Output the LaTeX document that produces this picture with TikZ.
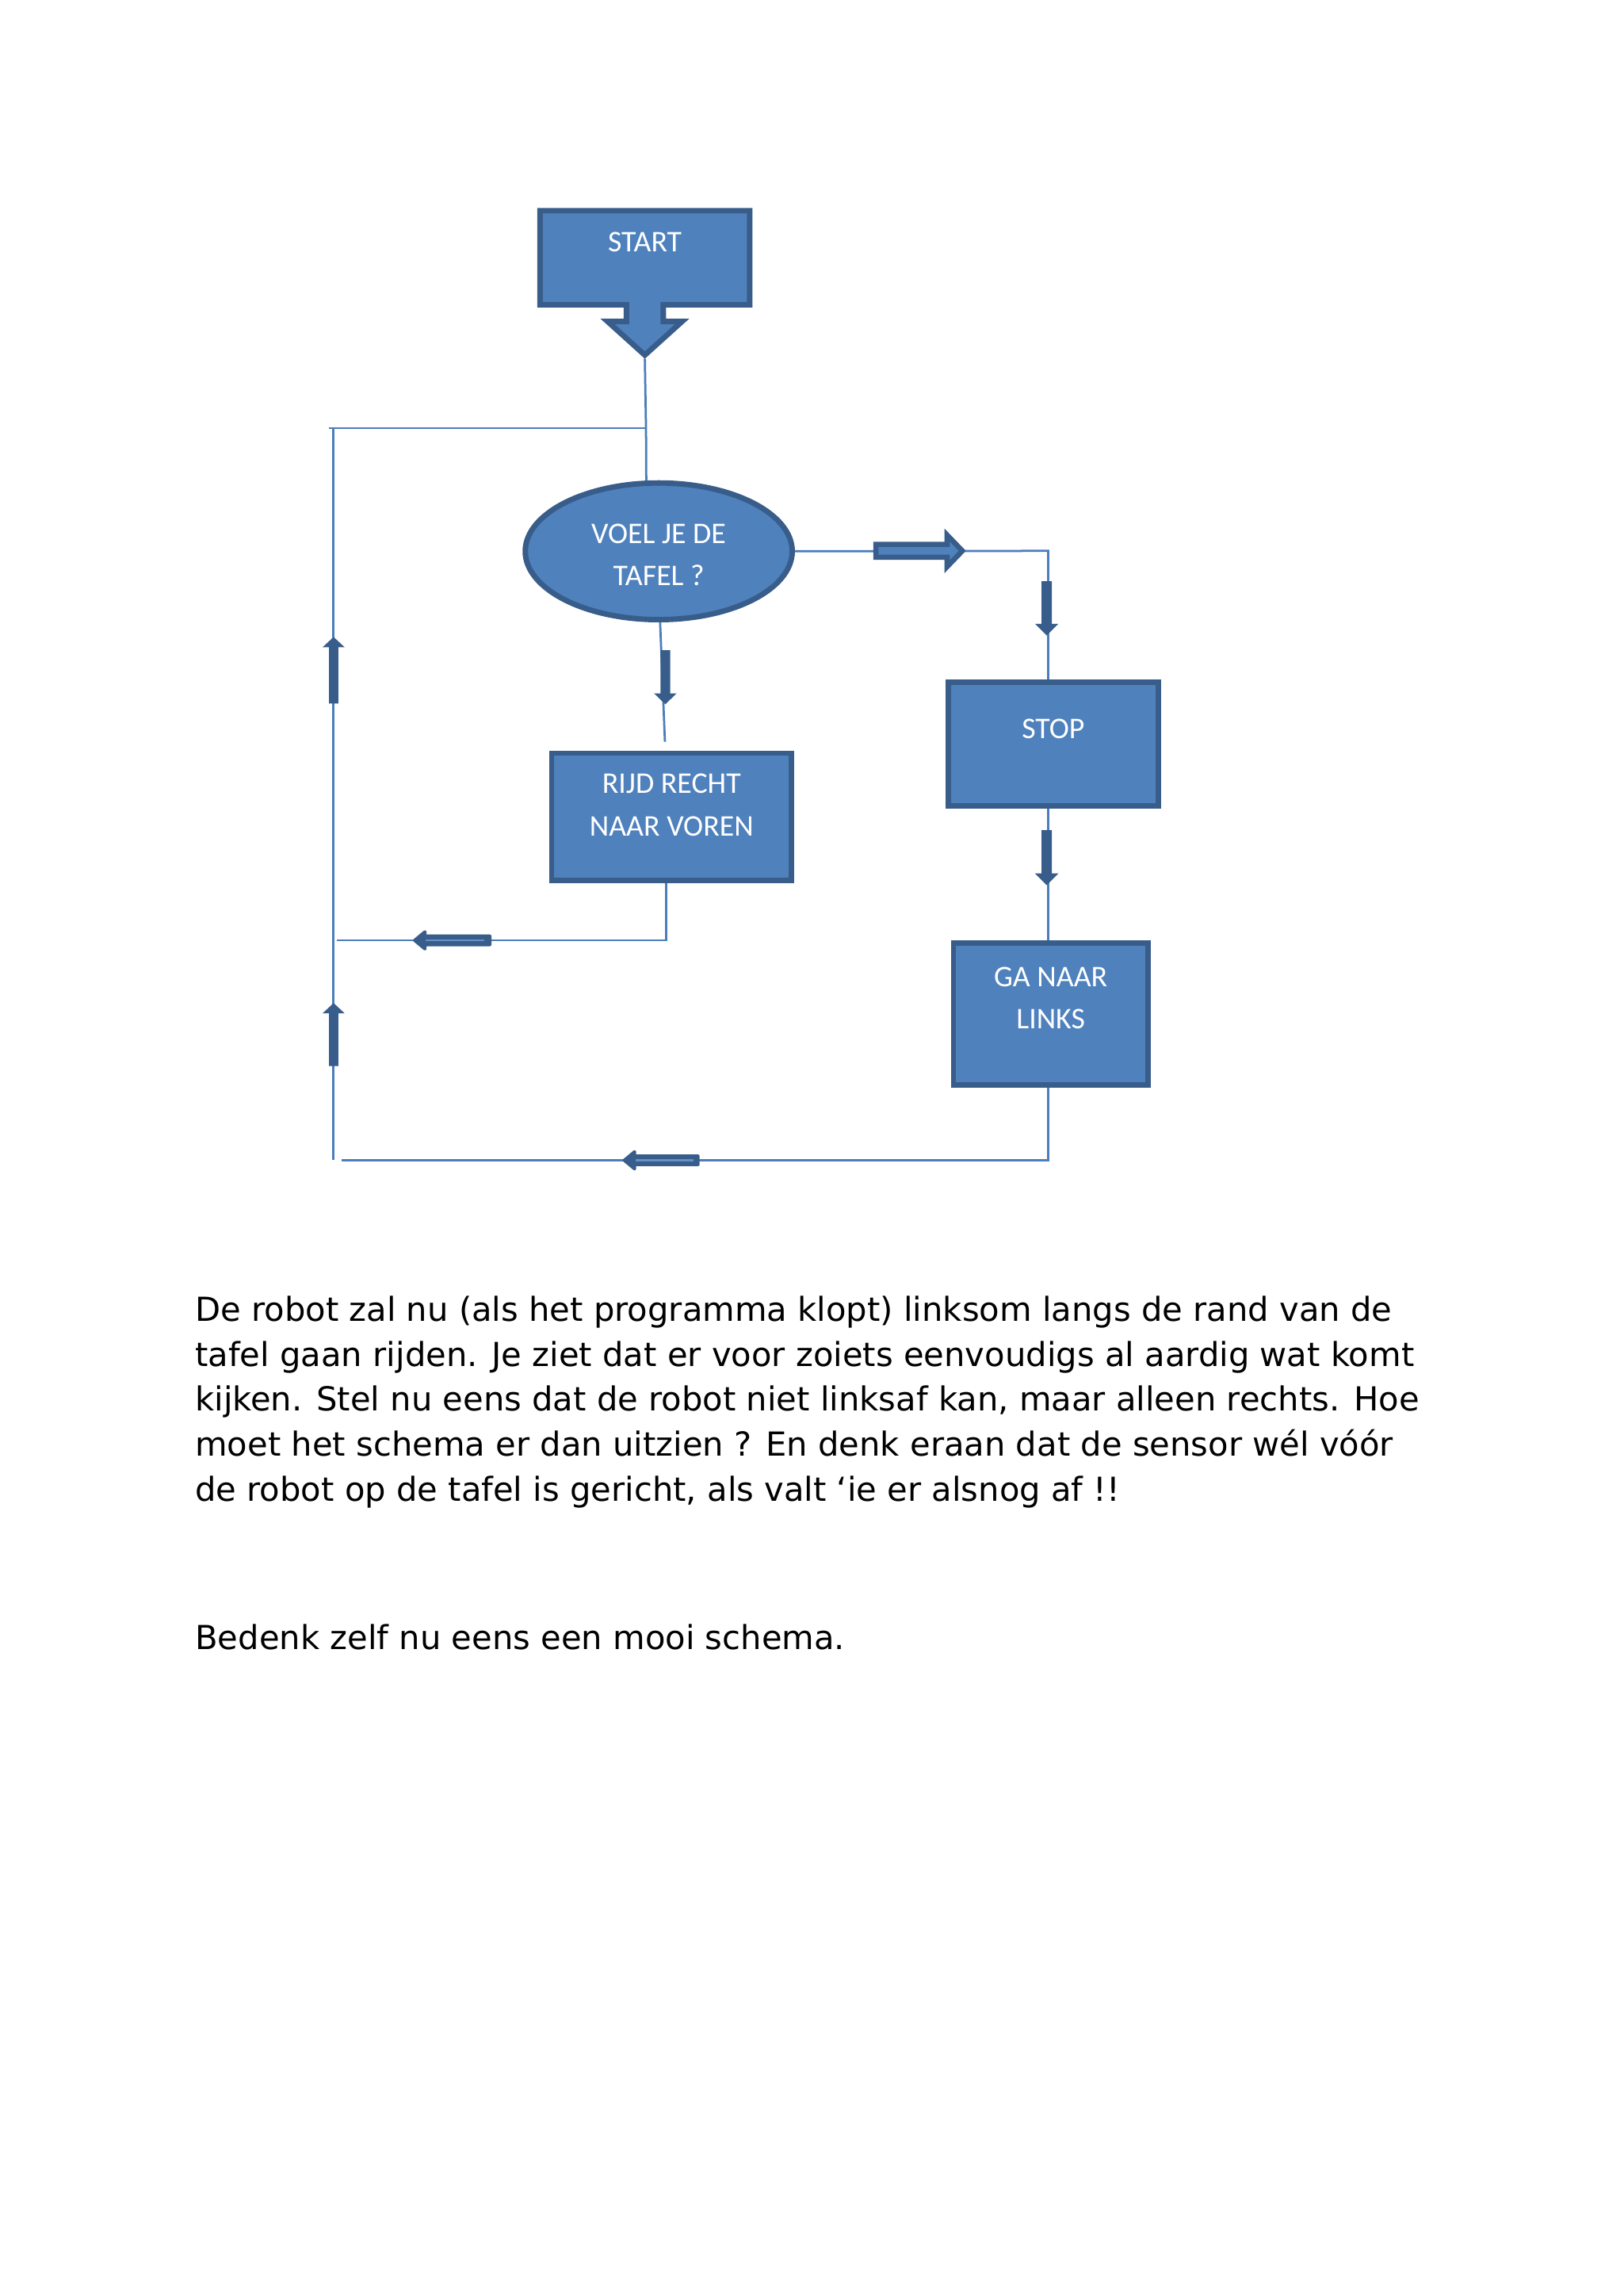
\documentclass[tikz,border=0pt]{standalone}
\usepackage{fontspec}
\usetikzlibrary{shapes.geometric}
\setmainfont{DejaVu Sans}
\newfontfamily\carlito{Carlito}
\definecolor{boxfill}{HTML}{4F81BD}
\definecolor{boxline}{HTML}{385D8A}
\definecolor{connline}{HTML}{4A7EBB}
\newcommand\boxtxt[4]{\parbox[c][#2][t]{#1}{\centering\vspace*{#3}#4\par}}
% vertical solid arrows: x, y of flat end, y of tip, shaft half, head half, head length
\newcommand\vdown[6]{\fill[solidarrow] (#1-#4,#2) -- (#1+#4,#2) -- (#1+#4,#3-#6) -- (#1+#5,#3-#6) -- (#1,#3) -- (#1-#5,#3-#6) -- (#1-#4,#3-#6) -- cycle;}
\newcommand\vup[6]{\fill[solidarrow] (#1-#4,#2) -- (#1+#4,#2) -- (#1+#4,#3+#6) -- (#1+#5,#3+#6) -- (#1,#3) -- (#1-#5,#3+#6) -- (#1-#4,#3+#6) -- cycle;}
% horizontal arrows: style, y, x tail, x tip, shaft half, head half, head length
\newcommand\hright[7]{\path[#1] (#3,#2-#5) -- (#4-#7,#2-#5) -- (#4-#7,#2-#6) -- (#4,#2) -- (#4-#7,#2+#6) -- (#4-#7,#2+#5) -- (#3,#2+#5) -- cycle;}
\newcommand\hleft[7]{\path[#1] (#3,#2-#5) -- (#4+#7,#2-#5) -- (#4+#7,#2-#6) -- (#4,#2) -- (#4+#7,#2+#6) -- (#4+#7,#2+#5) -- (#3,#2+#5) -- cycle;}
\tikzset{
  flowbox/.style={rectangle, draw=boxline, fill=boxfill, line width=2pt, inner sep=0pt,
    text=white, font=\carlito\fontsize{11pt}{15.57pt}\selectfont},
  decision/.style={ellipse, draw=boxline, fill=boxfill, line width=2pt, inner sep=0pt,
    text=white, align=center, font=\carlito\fontsize{11pt}{15.57pt}\selectfont},
  boxlabel/.style={inner sep=0pt, text=white, font=\carlito\fontsize{11pt}{15.57pt}\selectfont},
  conn/.style={draw=connline, line width=0.8pt},
  solidarrow/.style={fill=boxline},
  hollowarrow/.style={fill=boxfill, draw=boxline, line width=1.9pt, line join=miter},
  roundarrow/.style={fill=boxline, draw=boxline, line width=1.2pt, line join=round},
  stripe/.style={draw=connline!85!white, line width=0.8pt},
  bodytext/.style={anchor=base west, inner sep=0pt, font=\fontsize{12.12pt}{16.6pt}\selectfont}
}
\begin{document}
\begin{tikzpicture}[x=0.5368pt, y=-0.5368pt]
\useasboundingbox[fill=white] (0,0) rectangle (1109,1568);

% START callout (box with down arrow)
\path[fill=boxfill, draw=boxline, line width=2pt, line join=miter]
  (368.9,143.9) -- (512.1,143.9) -- (512.1,208.1) -- (453.1,208.1) -- (453.1,219.5)
  -- (466,219.5) -- (440.5,242.5) -- (415,219.5) -- (427.9,219.5) -- (427.9,208.1)
  -- (368.9,208.1) -- cycle;
\node[boxlabel] (start) at (440.5,165.5) {START};
\coordinate (starttip) at (440.5,245);

% decision and process boxes
\node[decision, minimum width=97.9pt, minimum height=50.1pt] (voel) at (450,376.5) {\rule{0pt}{9.8pt}VOEL JE DE\\TAFEL ?};
\node[flowbox] (rijd) at (458.75,557.75) {\boxtxt{87.93pt}{46.59pt}{7.54pt}{RIJD RECHT\\NAAR VOREN}};
\node[flowbox] (stop) at (719.5,508) {\boxtxt{76.92pt}{45.25pt}{13.6pt}{STOP}};
\node[flowbox] (links) at (717.75,692.5) {\boxtxt{71.29pt}{52.23pt}{8.9pt}{GA NAAR\\LINKS}};

% coordinates for connector corners
\coordinate (j1) at (441.3,292.4);
\coordinate (jl) at (224.7,292.4);
\coordinate (lt) at (227.6,292.4);
\coordinate (lb) at (227.6,792);
\coordinate (c1) at (716,376.2);
\coordinate (jm) at (230,642.2);
\coordinate (c2) at (716,792.4);
\coordinate (cb) at (233.4,792.4);

% connectors
\draw[conn] (starttip) -- (j1) -- (voel.100);
\draw[conn] (j1) -- (jl);
\draw[conn] (lt) -- (lb);
\draw[conn] (voel.east) -- (c1) -- (c1 |- stop.north);
\draw[conn, shorten >=3.2pt] ([xshift=0.5pt]voel.south) -- ([xshift=-2.3pt]rijd.north);
\draw[conn] ([xshift=-2pt]rijd.south) |- (jm);
\draw[conn] (c1 |- stop.south) -- (c1 |- links.north);
\draw[conn] (c1 |- links.south) -- (c2) -- (cb);

% block arrows on the connectors
\vup{227.9}{480.5}{435}{3.2}{7.5}{7}
\vup{227.9}{728}{685}{3.2}{7.5}{7}
\vdown{454.5}{444}{481}{3.3}{7.7}{7.5}
\vdown{715}{397}{434}{3.5}{8}{8}
\vdown{715}{567}{604.5}{3.5}{8}{8}
\hright{hollowarrow}{376.2}{598.4}{657.4}{4.4}{10.8}{10.4}
\hleft{roundarrow}{642.2}{334.6}{283.3}{2.9}{5.8}{7}
\draw[stripe] (291,642.2) -- (331,642.2);
\hleft{roundarrow}{792.4}{476.8}{426.5}{2.9}{5.8}{7}
\draw[stripe] (434,792.4) -- (473.5,792.4);

% text below the diagram
\node[bodytext] (p1) at (133,902.3) {De robot zal nu (als het programma klopt) linksom langs de rand van de};
\node[bodytext] (p2) at (133,933) {tafel gaan rijden. Je ziet dat er voor zoiets eenvoudigs al aardig wat komt};
\node[bodytext] (p3) at (133,963.7) {kijken. Stel nu eens dat de robot niet linksaf kan, maar alleen rechts. Hoe};
\node[bodytext] (p4) at (133,994.4) {moet het schema er dan uitzien ? En denk eraan dat de sensor wél vóór};
\node[bodytext] (p5) at (133,1025.1) {de robot op de tafel is gericht, als valt ‘ie er alsnog af !!};
\node[bodytext] (p6) at (133,1126.2) {Bedenk zelf nu eens een mooi schema.};
\end{tikzpicture}
\end{document}
